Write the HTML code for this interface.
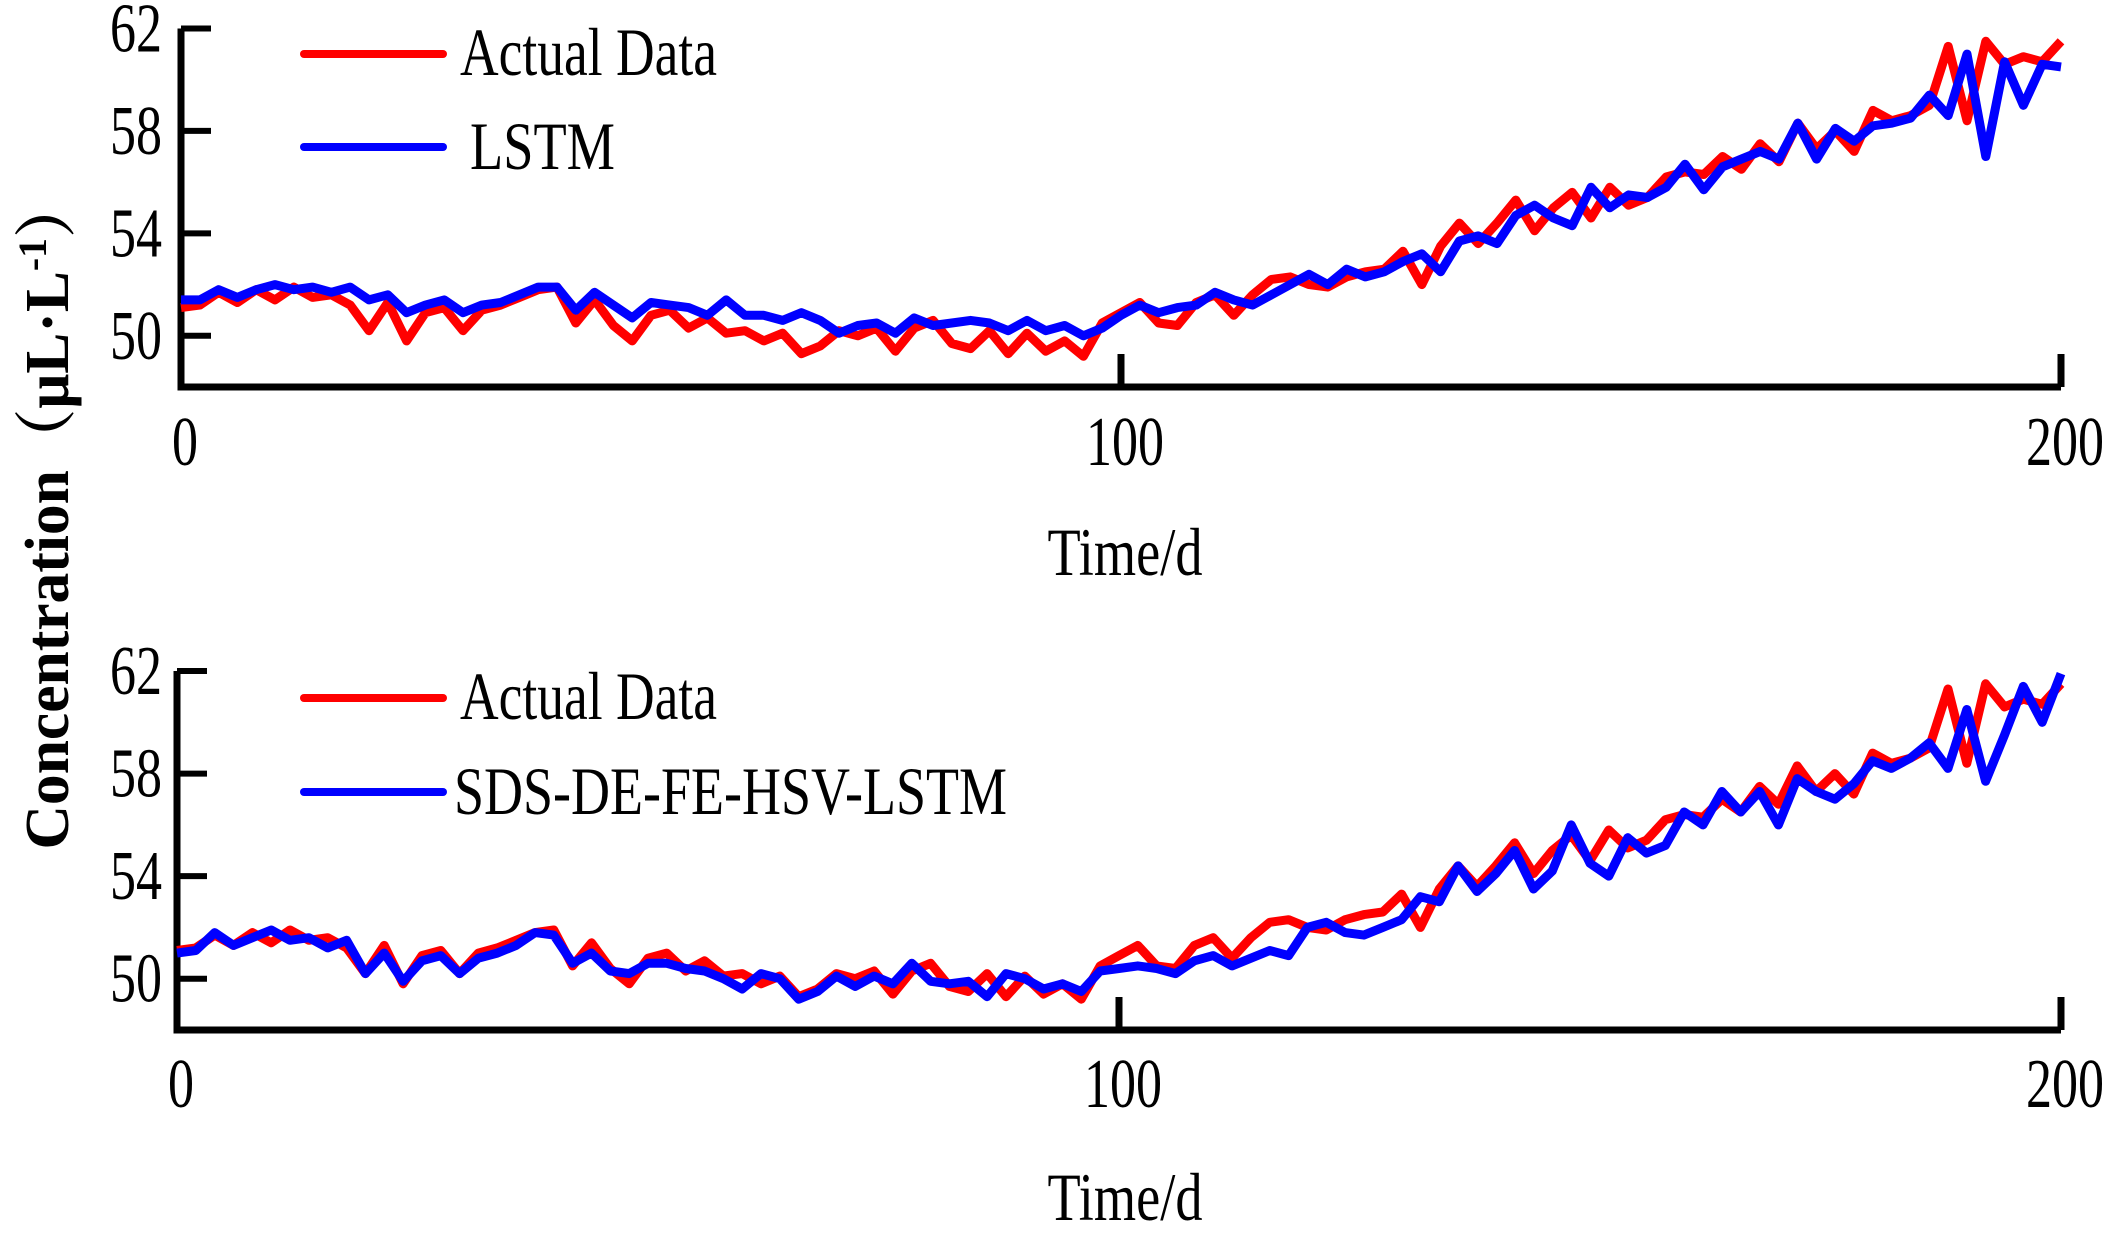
<!DOCTYPE html>
<html><head><meta charset="utf-8"><style>
html,body{margin:0;padding:0;background:#fff;}
svg{display:block;}
text{font-family:"Liberation Serif","Noto Serif CJK SC",serif;fill:#000;}
</style></head><body>
<svg id="chart" width="2120" height="1241" viewBox="0 0 2120 1241" xmlns="http://www.w3.org/2000/svg">
<text transform="translate(68,513) rotate(-90)" text-anchor="middle" font-size="62" font-weight="bold" textLength="673" lengthAdjust="spacingAndGlyphs">Concentration（μL·L<tspan font-size="40" dy="-22">-1</tspan><tspan dy="22">）</tspan></text>
<g id="top"></g>
<g id="bottom"></g>
</svg>
<script>
const days = [];
for (let d = 0; d <= 200; d += 2) days.push(d);
const yTicks = [50, 54, 58, 62];
const xTicks = [0, 100, 200];
const actualData = [51.1,51.2,51.7,51.3,51.8,51.4,51.9,51.5,51.6,51.2,50.2,51.3,49.8,50.9,51.1,50.2,51.0,51.2,51.5,51.8,51.9,50.5,51.4,50.4,49.8,50.8,51.0,50.3,50.7,50.1,50.2,49.8,50.1,49.3,49.6,50.2,50.0,50.3,49.4,50.3,50.6,49.7,49.5,50.2,49.3,50.1,49.4,49.8,49.2,50.5,50.9,51.3,50.5,50.4,51.3,51.6,50.8,51.6,52.2,52.3,52.0,51.9,52.3,52.5,52.6,53.3,52.0,53.5,54.4,53.6,54.4,55.3,54.1,55.0,55.6,54.6,55.8,55.1,55.4,56.2,56.4,56.3,57.0,56.5,57.5,56.8,58.3,57.3,58.0,57.2,58.8,58.4,58.6,59.0,61.3,58.4,61.5,60.6,60.9,60.7,61.5];
const lstmData = [51.4,51.4,51.8,51.5,51.8,52.0,51.8,51.9,51.7,51.9,51.4,51.6,50.9,51.2,51.4,50.9,51.2,51.3,51.6,51.9,51.9,51.0,51.7,51.2,50.7,51.3,51.2,51.1,50.8,51.4,50.8,50.8,50.6,50.9,50.6,50.1,50.4,50.5,50.1,50.7,50.4,50.5,50.6,50.5,50.2,50.6,50.2,50.4,50.0,50.3,50.8,51.2,50.9,51.1,51.2,51.7,51.4,51.2,51.6,52.0,52.4,52.0,52.6,52.3,52.5,52.9,53.2,52.5,53.7,53.9,53.6,54.7,55.1,54.6,54.3,55.8,55.0,55.5,55.4,55.8,56.7,55.7,56.6,56.9,57.2,56.9,58.3,56.9,58.1,57.6,58.2,58.3,58.5,59.4,58.6,61.0,57.0,60.7,59.0,60.6,60.5];
const sdsData = [51.0,51.1,51.8,51.3,51.6,51.9,51.5,51.6,51.2,51.5,50.2,51.0,49.9,50.7,50.9,50.2,50.8,51.0,51.3,51.8,51.7,50.6,51.0,50.3,50.2,50.6,50.6,50.4,50.3,50.0,49.6,50.2,50.0,49.2,49.5,50.1,49.7,50.1,49.8,50.6,49.9,49.8,49.9,49.3,50.2,50.0,49.6,49.8,49.5,50.3,50.4,50.5,50.4,50.2,50.7,50.9,50.5,50.8,51.1,50.9,52.0,52.2,51.8,51.7,52.0,52.3,53.2,53.0,54.4,53.4,54.1,55.0,53.5,54.2,56.0,54.5,54.0,55.5,54.9,55.2,56.5,56.0,57.3,56.5,57.3,56.0,57.8,57.3,57.0,57.6,58.5,58.2,58.6,59.2,58.2,60.5,57.7,59.5,61.4,60.0,61.9];

const NS = "http://www.w3.org/2000/svg";
function mk(tag, attrs, parent, txt){
  const e = document.createElementNS(NS, tag);
  for (const k in attrs) e.setAttribute(k, attrs[k]);
  if (txt !== undefined) e.textContent = txt;
  parent.appendChild(e); return e;
}
function panel(g, x0, yTop, yBot, blue, blueName, legY, legTextW, xLabelY, titleY){
  const x1 = 2061;
  const xs = v => x0 + (v - 0) / 200 * (x1 - x0);
  const ys = v => yBot - (v - 48) / 14 * (yBot - yTop);
  const ax = mk('path', {d:`M${x0},${ys(62)} L${x0},${yBot} L${x1},${yBot}`, fill:'none', stroke:'#000', 'stroke-width':7, 'stroke-linejoin':'miter'}, g);
  
  
  yTicks.forEach(t => {
    const y = ys(t);
    const tk = mk('line', {x1:x0, x2:x0+30, y1:y, y2:y, stroke:'#000', 'stroke-width':6}, g);
    
    
    const lb = mk('text', {x:162, y:y+23, 'text-anchor':'end', 'font-size':70, textLength:52, lengthAdjust:'spacingAndGlyphs'}, g, String(t));
    
    
  });
  xTicks.forEach(t => {
    const x = xs(t);
    if (t > 0) {
      const tk = mk('line', {x1:x, x2:x, y1:yBot, y2:yBot-33, stroke:'#000', 'stroke-width':7}, g);
      
      
    }
    const s = String(t);
    const lb = mk('text', {x:x+4, y:xLabelY, 'text-anchor':'middle', 'font-size':70, textLength:s.length*26, lengthAdjust:'spacingAndGlyphs'}, g, s);
    
    
  });
  const xt = mk('text', {x:1125, y:titleY, 'text-anchor':'middle', 'font-size':68, textLength:155, lengthAdjust:'spacingAndGlyphs'}, g, 'Time/d');
  
  
  const series = [[actualData, '#ff0000', 'actual-data-line'], [blue, '#0000ff', blueName + '-line']];
  series.forEach(([arr, col, nm]) => {
    const d = arr.map((v, i) => (i ? 'L' : 'M') + xs(days[i]).toFixed(1) + ',' + ys(v).toFixed(1)).join(' ');
    const p = mk('path', {d:d, fill:'none', stroke:col, 'stroke-width':9, 'stroke-linejoin':'round'}, g);
    
    
  });
  const l1 = mk('line', {x1:304, x2:443, y1:legY, y2:legY, stroke:'#ff0000', 'stroke-width':8, 'stroke-linecap':'round'}, g);
  
  
  const t1 = mk('text', {x:460, y:legY+21, 'font-size':68, textLength:257, lengthAdjust:'spacingAndGlyphs'}, g, 'Actual Data');
  
  
  const ly2 = legY + (blueName === 'lstm' ? 93 : 94);
  const l2 = mk('line', {x1:304, x2:443, y1:ly2, y2:ly2, stroke:'#0000ff', 'stroke-width':8, 'stroke-linecap':'round'}, g);
  
  
  const t2 = mk('text', {x:blueName === 'lstm' ? 470 : 454, y:ly2+22, 'font-size':68, textLength:legTextW, lengthAdjust:'spacingAndGlyphs'}, g, blueName === 'lstm' ? 'LSTM' : 'SDS-DE-FE-HSV-LSTM');
  
  
}
panel(document.getElementById('top'), 181, 28.5, 387, lstmData, 'lstm', 54, 145, 465, 575);
panel(document.getElementById('bottom'), 177, 671, 1030, sdsData, 'sds-de-fe-hsv-lstm', 698, 553, 1107, 1220);
</script>
</body></html>
